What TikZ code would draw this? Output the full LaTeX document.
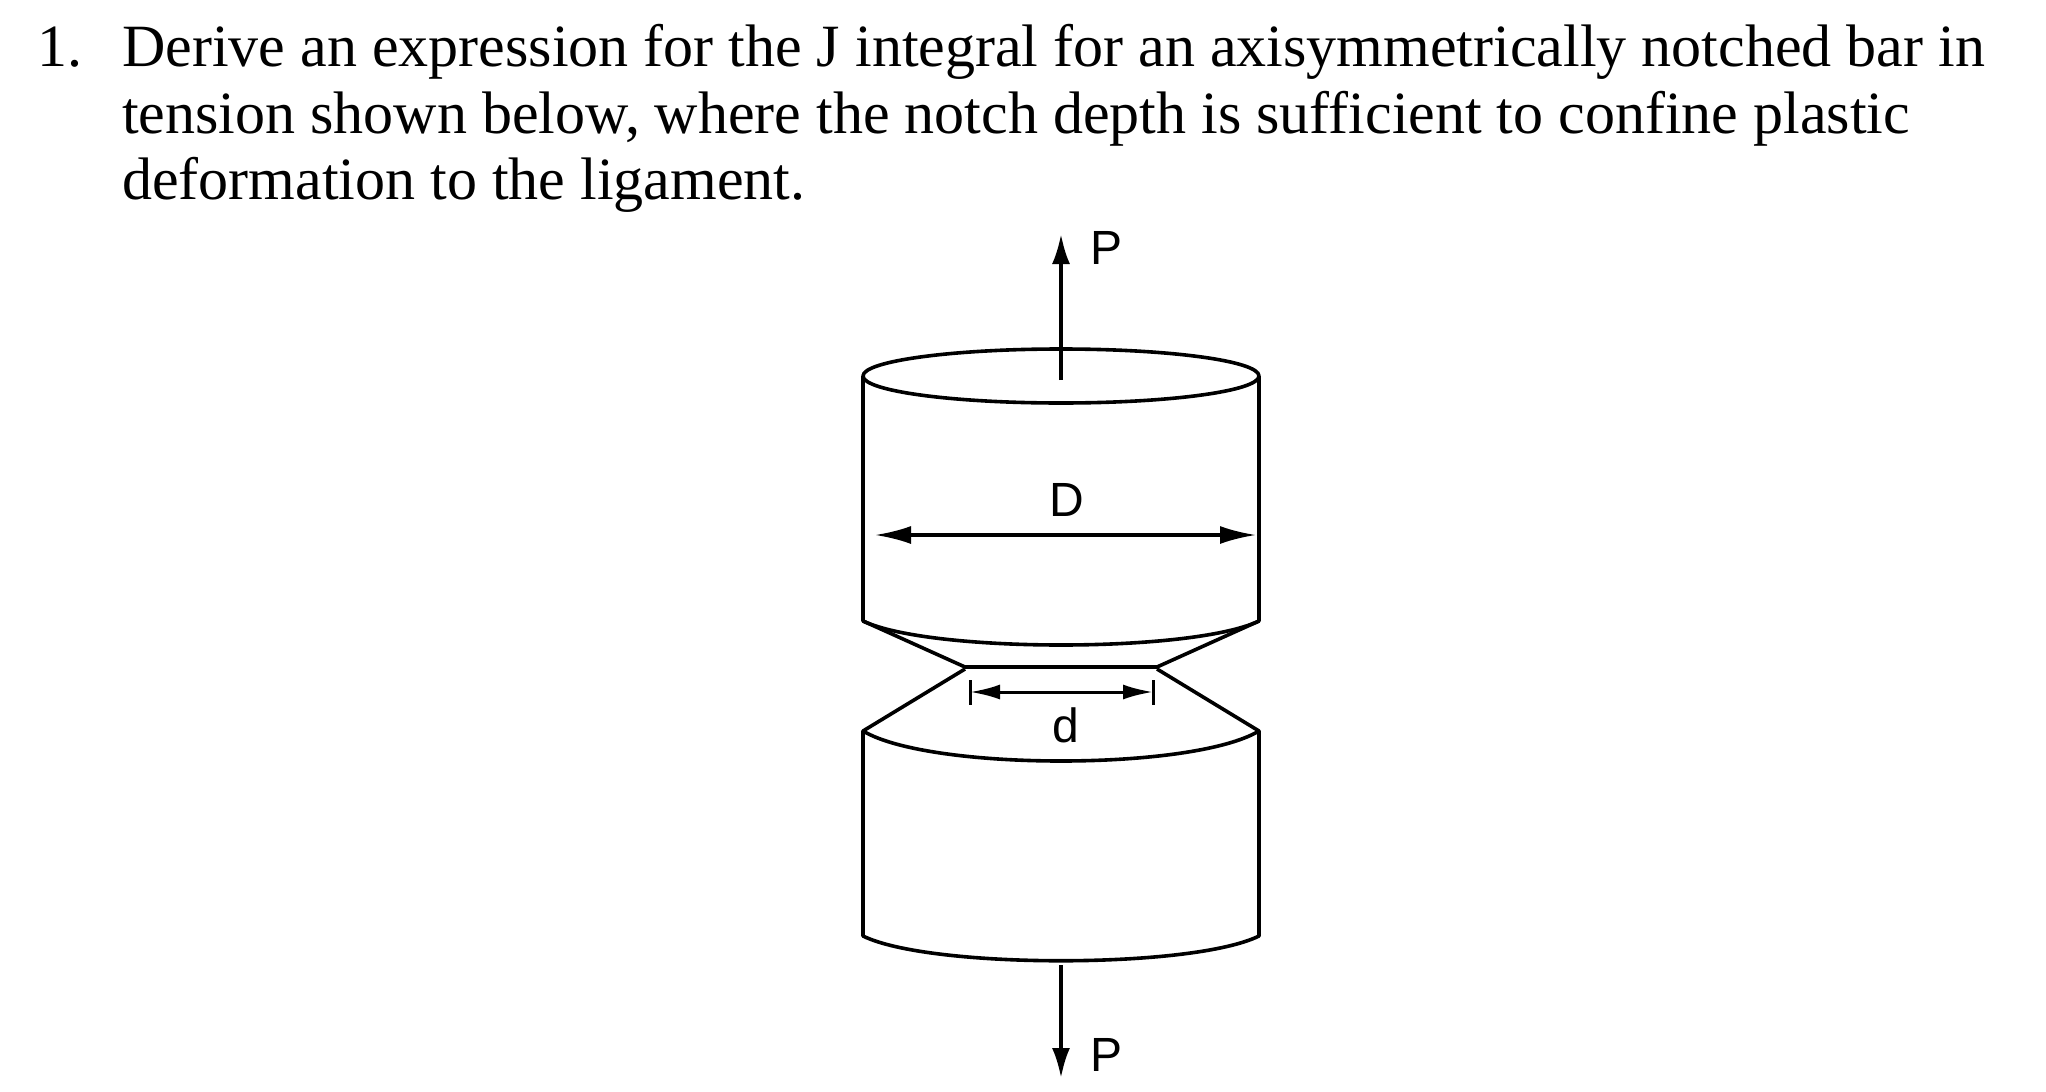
\documentclass[tikz,border=0pt]{standalone}
\usepackage{fontspec}
\setmainfont{Liberation Serif}
\newfontfamily\lab{Liberation Sans}
\usetikzlibrary{arrows.meta}
\begin{document}
\begin{tikzpicture}[x=1pt,y=-1pt,
  txt/.style={anchor=base west,inner sep=0pt,font=\fontsize{60}{66}\selectfont},
  lbl/.style={inner sep=0pt,font=\lab\fontsize{48}{50}\selectfont},
  body/.style={line width=3.6pt,line join=round},
  arr/.style={line width=3.6pt,-{Latex[length=30pt,width=18pt]}},
  dim/.style={line width=3.2pt,{Latex[length=36pt,width=18pt]}-{Latex[length=36pt,width=18pt]}},
  sdim/.style={line width=3pt,{Latex[length=30pt,width=15pt]}-{Latex[length=30pt,width=15pt]}}]
\useasboundingbox (0,0) rectangle (2046,1092);
\node[txt] (n1) at (37,66) {1.};
\node[txt] (l1) at (122,66) {Derive an expression for the J integral for an axisymmetrically notched bar in};
\node[txt] (l2) at (122,133) {tension shown below, where the notch depth is sufficient to confine plastic};
\node[txt] (l3) at (122,199) {deformation to the ligament.};
% upper cylinder
\draw[body] (1061,376) ellipse (198 and 27);
\draw[body] (863,376) -- (863,621) .. controls (930,653) and (1192,653) .. (1259,621) -- (1259,376);
\draw[body] (863,621) -- (965,667) -- (1157,667) -- (1259,621);
% lower cylinder
\draw[body] (965,669) -- (863,731) -- (863,936) .. controls (930,969) and (1192,969) .. (1259,936) -- (1259,731) -- (1157,669);
\draw[body] (863,731) .. controls (930,771) and (1192,771) .. (1259,731);
% loads
\coordinate (t0) at (1061,380); \coordinate (t1) at (1061,234);
\draw[arr] (t0) -- (t1);
\node[lbl,anchor=west] (pt) at (1090,248) {P};
\coordinate (b0) at (1061,965); \coordinate (b1) at (1061,1078);
\draw[arr] (b0) -- (b1);
\node[lbl,anchor=west] (pb) at (1090,1055) {P};
% dims
\coordinate (Dl) at (875,535); \coordinate (Dr) at (1256,535);
\draw[dim] (Dl) -- (Dr);
\node[lbl] (D) at (1067,500) {D};
\coordinate (dl) at (970,692); \coordinate (dr) at (1153,692);
\draw[sdim] (dl) -- (dr);
\draw[line width=3pt] (970,680) -- (970,705) (1153,680) -- (1153,705);
\node[lbl] (dd) at (1066,725) {d};
\end{tikzpicture}
\end{document}
